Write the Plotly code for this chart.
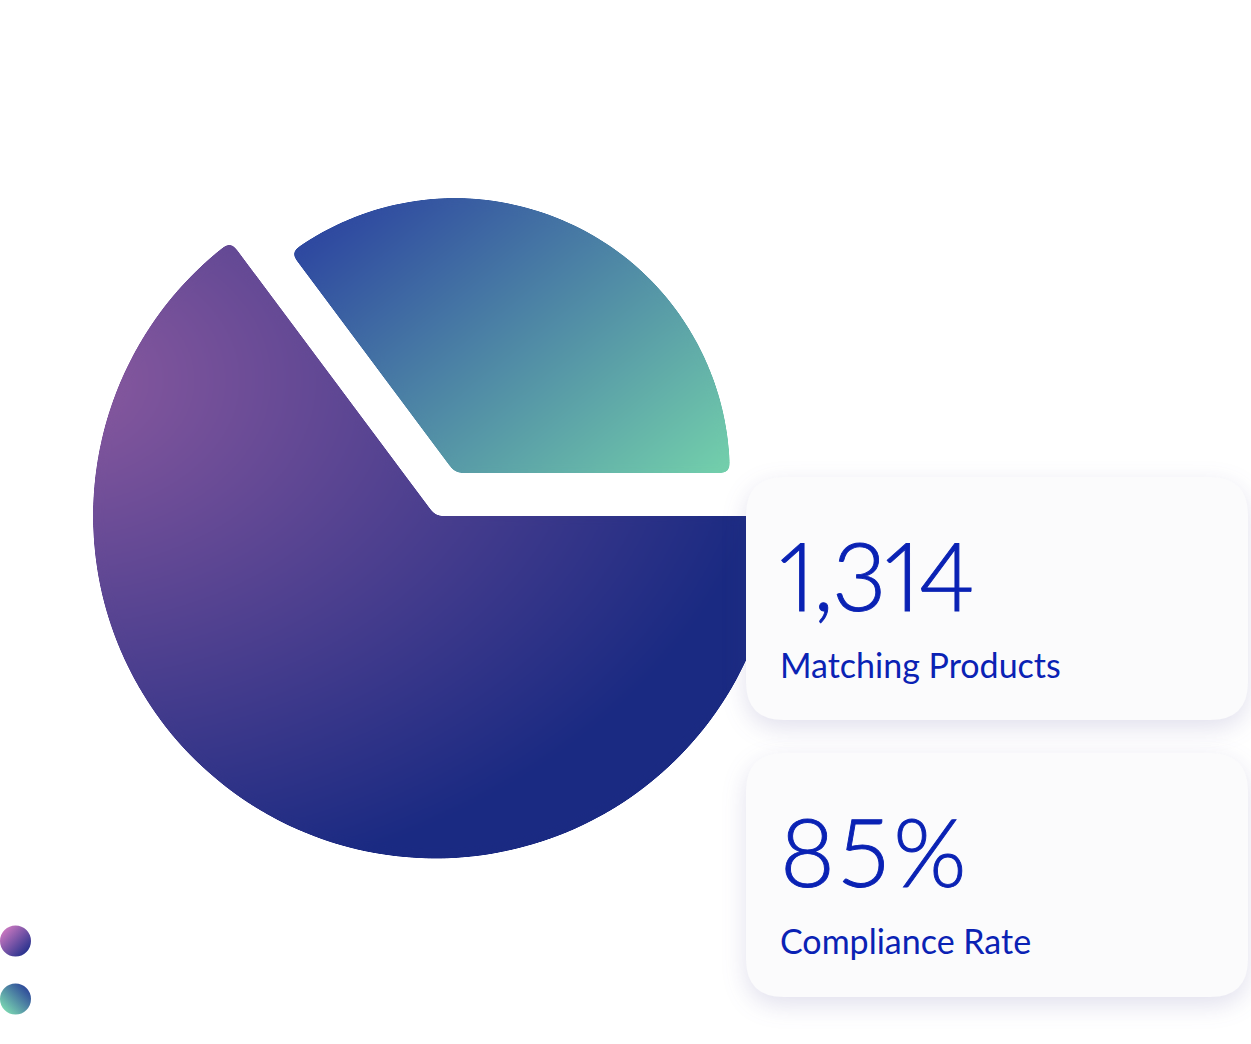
import plotly.graph_objects as go

W = 1251
H = 1044

# Pie data (percent of products)
slice_labels = ["Non-matching", "Matching"]
big_values = [64.8, 35.2]
small_values = [35.2, 64.8]

# Card texts
card_numbers = ["1,314", "85%"]
card_captions = ["Matching Products", "Compliance Rate"]

TEXT_COLOR = "#0a22b4"
CARD_COLOR = "#fbfbfc"


def px_x(x):
    return x / W


def px_y(y):
    return 1 - y / H


def pie_domain(cx, cy, r):
    return dict(x=[px_x(cx - r), px_x(cx + r)], y=[px_y(cy + r), px_y(cy - r)])


def card_path(x0, y0, x1, y1, r):
    a, b, c, d = px_x(x0), px_x(x1), px_y(y0), px_y(y1)
    rx, ry = r / W, r / H
    return (
        f"M {a + rx} {c} L {b - rx} {c} Q {b} {c} {b} {c - ry} "
        f"L {b} {d + ry} Q {b} {d} {b - rx} {d} "
        f"L {a + rx} {d} Q {a} {d} {a} {d + ry} "
        f"L {a} {c - ry} Q {a} {c} {a + rx} {c} Z"
    )


fig = go.Figure()

# Big slice, starts at 3 o'clock
fig.add_trace(go.Pie(
    labels=slice_labels, values=big_values, sort=False, direction="clockwise",
    rotation=90, domain=pie_domain(435.5, 516, 342.5), textinfo="none",
    hoverinfo="skip", showlegend=False,
    marker=dict(colors=["#4f3f8e", "rgba(0,0,0,0)"], line=dict(width=0)),
))

# Small slice, drawn apart from the big one
fig.add_trace(go.Pie(
    labels=slice_labels[::-1], values=small_values, sort=False, direction="clockwise",
    rotation=-36.7, domain=pie_domain(455, 473, 275), textinfo="none",
    hoverinfo="skip", showlegend=False,
    marker=dict(colors=["#4f8aa5", "rgba(0,0,0,0)"], line=dict(width=0)),
))

shapes = [
    dict(type="path", xref="paper", yref="paper", path=card_path(746, 477, 1248, 720, 38),
         fillcolor=CARD_COLOR, line=dict(width=0), layer="above"),
    dict(type="path", xref="paper", yref="paper", path=card_path(746, 753, 1248, 997, 38),
         fillcolor=CARD_COLOR, line=dict(width=0), layer="above"),
    dict(type="circle", xref="paper", yref="paper", x0=px_x(0), x1=px_x(31), y0=px_y(956.5), y1=px_y(925.5),
         fillcolor="#6a4fa0", line=dict(width=0), layer="above"),
    dict(type="circle", xref="paper", yref="paper", x0=px_x(0), x1=px_x(31), y0=px_y(1014.5), y1=px_y(983.5),
         fillcolor="#4f8aa5", line=dict(width=0), layer="above"),
]

annotations = []
for i, (num, cap) in enumerate(zip(card_numbers, card_captions)):
    num_x = [754.5, 782][i]
    num_y = [574, 850][i]
    cap_y = [664, 940][i]
    annotations.append(dict(
        x=px_x(num_x), y=px_y(num_y), xref="paper", yref="paper", text=num, showarrow=False,
        xanchor="left", yanchor="middle",
        font=dict(family="Lato", size=94, color=TEXT_COLOR, weight=300),
    ))
    annotations.append(dict(
        x=px_x(778), y=px_y(cap_y), xref="paper", yref="paper", text=cap, showarrow=False,
        xanchor="left", yanchor="middle",
        font=dict(family="Lato", size=34, color=TEXT_COLOR),
    ))

fig.update_layout(
    width=W, height=H, margin=dict(l=0, r=0, t=0, b=0, pad=0),
    paper_bgcolor="white", plot_bgcolor="white",
    shapes=shapes, annotations=annotations, showlegend=False,
)

# Plotly has no diagonal gradients or rounded corners for slices, so they get added to the svg afterwards
post_script = """
document.body.style.margin = '0';
var NS = 'http://www.w3.org/2000/svg';
var svg = document.querySelector('svg.main-svg');
var defs = document.createElementNS(NS, 'defs');
svg.insertBefore(defs, svg.firstChild);
function mk(tag, attrs, parent) {
    var el = document.createElementNS(NS, tag);
    Object.keys(attrs).forEach(function(k) { el.setAttribute(k, attrs[k]); });
    parent.appendChild(el);
    return el;
}
function stops(g, c1, c2) {
    mk('stop', {offset: 0, 'stop-color': c1}, g);
    mk('stop', {offset: 1, 'stop-color': c2}, g);
}
function grad(id, x1, y1, x2, y2, c1, c2) {
    var g = mk('linearGradient', {id: id, gradientUnits: 'userSpaceOnUse', x1: x1, y1: y1, x2: x2, y2: y2}, defs);
    stops(g, c1, c2);
}
var rg = mk('radialGradient', {id: 'gBig', gradientUnits: 'userSpaceOnUse', cx: 50, cy: 380, r: 730,
    gradientTransform: 'translate(0,380) scale(1,0.714) translate(0,-380)'}, defs);
stops(rg, '#8c5a9f', '#1a2a82');
grad('gSmall', 305, 245, 575, 585, '#2e48a0', '#72ceab');
grad('gDot1', 3, 929, 27, 953, '#d07ac2', '#23308c');
grad('gDot2', 3, 1011, 27, 987, '#7ddbb2', '#2c4699');

// blur + alpha threshold rounds the corners and keeps the edges in place
var f = mk('filter', {id: 'rnd', x: '-5%', y: '-5%', width: '110%', height: '110%', 'color-interpolation-filters': 'sRGB'}, defs);
mk('feGaussianBlur', {stdDeviation: 5}, f);
mk('feColorMatrix', {type: 'matrix', values: '1 0 0 0 0  0 1 0 0 0  0 0 1 0 0  0 0 0 18 -8.5'}, f);

var slices = document.querySelectorAll('.pielayer .trace');
[['gBig', 0], ['gSmall', 1]].forEach(function(p) {
    var path = slices[p[1]].querySelector('.slice path');
    path.style.fill = 'url(#' + p[0] + ')';
    path.style.filter = 'url(#rnd)';
});
var sh = document.querySelectorAll('.layer-above .shapelayer path');
sh[0].style.filter = 'drop-shadow(0 8px 12px rgba(70,60,140,0.16))';
sh[1].style.filter = 'drop-shadow(0 8px 12px rgba(70,60,140,0.16))';
sh[2].style.fill = 'url(#gDot1)';
sh[3].style.fill = 'url(#gDot2)';

var labels = document.querySelectorAll('.annotation-text');
[[0, '-1.5px'], [2, '4px']].forEach(function(p) {
    var t = labels[p[0]];
    t.style.fontFeatureSettings = '"pnum"';
    t.style.letterSpacing = p[1];
    t.style.stroke = '#0a22b4';
    t.style.strokeWidth = '0.9px';
});
"""

fig.write_html("out.html", post_script=post_script, config={"displayModeBar": False})
